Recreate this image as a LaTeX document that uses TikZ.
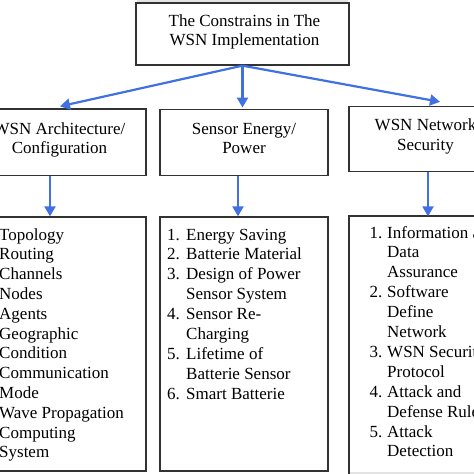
\documentclass[tikz,border=0pt]{standalone}
\usepackage{fontspec}
\setmainfont{Liberation Serif}
\usetikzlibrary{arrows.meta}
\definecolor{arrblue}{RGB}{64,112,226}
\definecolor{boxgray}{RGB}{50,50,50}
\begin{document}
\begin{tikzpicture}[x=1pt,y=-1pt,
  box/.style={draw=boxgray,line width=1.3pt,rectangle,inner sep=0pt,fill=white},
  txt/.style={inner sep=0pt,font=\fontsize{17}{20}\selectfont,text=black},
  arr/.style={draw=arrblue,line width=2.2pt,-{Triangle[length=10pt,width=11pt]}}]
\useasboundingbox (0,0) rectangle (474,474);
\clip (0,0) rectangle (474,474);
% boxes
\node[box,minimum width=213pt,minimum height=62pt] (top) at (242.5,34) {};
\node[box,minimum width=174pt,minimum height=66.5pt] (b1) at (59,142.25) {};
\node[box,minimum width=168pt,minimum height=66pt] (b2) at (244,142.7) {};
\node[box,minimum width=152pt,minimum height=65pt] (b3) at (425,139) {};
\node[box,minimum width=174pt,minimum height=254pt] (l1) at (59,344) {};
\node[box,minimum width=168pt,minimum height=254pt] (l2) at (244,344) {};
\node[box,minimum width=152pt,minimum height=274pt] (l3) at (425,353) {};
\fill[gray!22] (136.7,0) rectangle (348.3,2.4);
\fill[gray!22] (349.7,472.3) rectangle (474,474);
% titles
\node[txt,anchor=base] (t1) at (244.5,26) {The Constrains in The};
\node[txt,anchor=base] (t2) at (244.5,45) {WSN Implementation};
\node[txt,anchor=base] (a1) at (59.5,134.5) {WSN Architecture/};
\node[txt,anchor=base] (a2) at (59.5,153.5) {Configuration};
\node[txt,anchor=base] (s1) at (244,134.3) {Sensor Energy/};
\node[txt,anchor=base] (s2) at (244,153.7) {Power};
\node[txt,anchor=base] (n1) at (425.5,130) {WSN Network};
\node[txt,anchor=base] (n2) at (425.5,150) {Security};
% arrows
\draw[arr] (top.south) -- ([xshift=1pt,yshift=2pt]b1.north);
\draw[arr] (top.south) -- ([xshift=-1.5pt,yshift=1.5pt]b2.north);
\draw[arr] (top.south) -- ([xshift=15pt,yshift=4pt]b3.north);
\draw[arr] ([xshift=-9pt]b1.south) -- ([xshift=-9pt]l1.north);
\draw[arr] ([xshift=-6pt]b2.south) -- ([xshift=-6pt]l2.north);
\draw[arr] ([xshift=3pt]b3.south) -- ([xshift=3pt,yshift=-1pt]l3.north);
% left list
\foreach \t [count=\i] in {Topology,Routing,Channels,Nodes,Agents,Geographic,Condition,Communication,Mode,Wave Propagation,Computing,System}
  \node[txt,anchor=base west] (p\i) at (-1,{240+(\i-1)*19.8}) {\t};
% middle list
\foreach \n/\t [count=\i] in {1./Energy Saving,2./Batterie Material,3./Design of Power,/Sensor System,4./Sensor Re-,/Charging,5./Lifetime of,/Batterie Sensor,6./Smart Batterie}
  {\node[txt,anchor=base west] (mn\i) at (167,{240+(\i-1)*19.9}) {\n};
   \node[txt,anchor=base west] (mt\i) at (186,{240+(\i-1)*19.9}) {\t};}
% right list
\foreach \n/\t [count=\i] in {1./Information and,/Data,/Assurance,2./Software,/Define,/Network,3./WSN Security,/Protocol,4./Attack and,/Defense Rules,5./Attack,/Detection}
  {\node[txt,anchor=base west] (rn\i) at (369.5,{238+(\i-1)*19.9}) {\n};
   \node[txt,anchor=base west] (rt\i) at (387,{238+(\i-1)*19.9}) {\t};}
\end{tikzpicture}
\end{document}
